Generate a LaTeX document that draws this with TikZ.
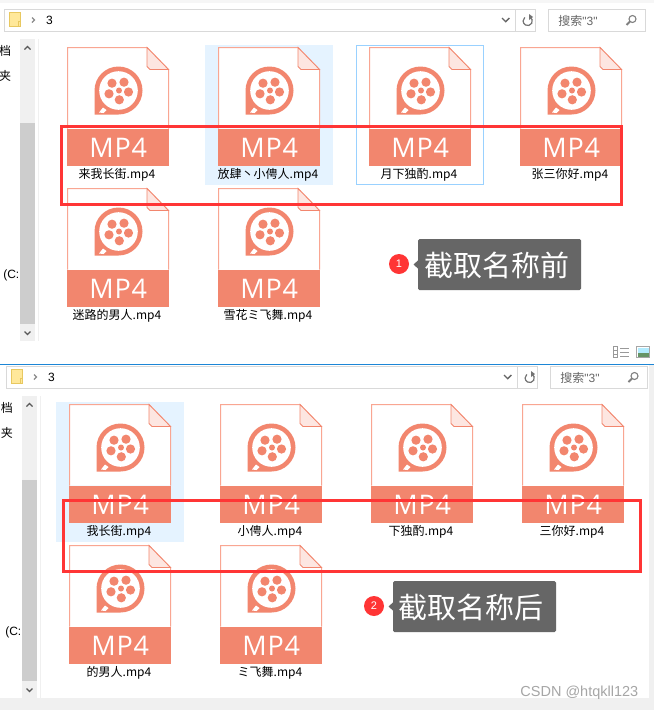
\documentclass[tikz,border=0pt]{standalone}
\usepackage{fontspec}
\usetikzlibrary{calc}
\setmainfont{Noto Sans CJK SC}
\newfontfamily\bandfont[LetterSpace=3]{Open Sans}
\newfontfamily\latfont{Liberation Sans}
\definecolor{salmon}{HTML}{F2866E}
\definecolor{salmonpale}{HTML}{F9A692}
\definecolor{foldfill}{HTML}{FDE6E1}
\definecolor{panelgrey}{HTML}{F0F0F0}
\definecolor{thumbgrey}{HTML}{CDCDCD}
\definecolor{barline}{HTML}{D9D9D9}
\definecolor{selfill}{HTML}{E5F3FF}
\definecolor{hoverline}{HTML}{99D1FF}
\definecolor{redmark}{HTML}{FF3535}
\definecolor{calloutgrey}{HTML}{666666}
\definecolor{sepblue}{HTML}{1C86D6}
\definecolor{foldery}{HTML}{FFE89A}
\definecolor{folderl}{HTML}{E8C860}
\tikzset{
  barbox/.style={draw=barline,line width=1pt,fill=white},
  filename/.style={inner sep=0pt,font=\fontsize{12}{12}\selectfont,text=black},
  bandtext/.style={inner sep=0pt,text=white,font=\bandfont\fontsize{27}{27}\selectfont},
  sidetext/.style={inner sep=0pt,font=\fontsize{12}{12}\selectfont,text=black},
  lattext/.style={inner sep=0pt,font=\latfont\fontsize{12}{12}\selectfont,text=black},
  greytext/.style={inner sep=0pt,font=\fontsize{12}{12}\selectfont,text=black!60},
  callout/.style={fill=calloutgrey,rounded corners=1.5pt},
  callouttext/.style={inner sep=0pt,text=white,font=\fontsize{29}{30}\selectfont},
  badge/.style={circle,fill=redmark,minimum size=20pt,inner sep=0pt,text=white,font=\latfont\fontsize{11}{11}\selectfont},
  redbox/.style={draw=redmark,line width=3pt},
  uichev/.style={draw=black!60,line width=1.3pt},
}
% #1 name, #2 left, #3 top, #4 label
\newcommand{\fileicon}[4]{%
\begin{scope}[shift={(#2,#3)}]
  \fill[white] (0,0) -- (79.5,0) -- (101,22) -- (101,81) -- (0,81) -- cycle;
  \draw[salmonpale,line width=1pt] (0,81) -- (0,0) -- (79.5,0) -- (101,22) -- (101,81);
  \draw[salmon,line width=.8pt,fill=foldfill] (79.5,0) -- (79.5,19) -- (82.5,22) -- (101,22) -- cycle;
  \fill[salmon] (27,43) arc[start angle=180,end angle=450,radius=24] -- (27,67) -- cycle;
  \fill[white] (51,43) circle[radius=19.3];
  \fill[white] (31.5,65) -- (35.5,60) -- (39,62.5) -- (36,65.5) -- cycle;
  \fill[salmon] (51.5,43) circle[radius=3];
  \foreach \dx/\dy in {-7/-7.3,5/-8.3,9.5/1.5,0.3/9.3,-10/3.3}
    \fill[salmon] ($(51.5,43)+(\dx,\dy)$) circle[radius=4.6];
  \fill[salmon] (-.5,81) rectangle (101.5,118);
  \node[bandtext] (#1b) at (50.8,100) {MP4};
  \node[filename] (#1) at (49.5,127.5) {#4};
\end{scope}}
% #1 prefix, #2 dx, #3 dy
\newcommand{\chrome}[3]{%
\begin{scope}[shift={(#2,#3)}]
  \draw[barbox] (4.5,9.5) rectangle (535.5,31.5);
  \draw[barline,line width=1pt] (515.5,9.5) -- (515.5,31.5);
  \draw[barbox] (548.5,9.5) rectangle (645.5,31.5);
  \fill[foldery] (9.5,12) rectangle (20.5,26);
  \draw[folderl,line width=1pt] (9.5,12) rectangle (20.5,26) (18.5,26) -- (18.5,21.5) -- (20.5,21.5);
  \draw[black!45,line width=1.4pt] (32,17.5) -- (34.5,20) -- (32,22.5);
  \node[lattext] (#1num) at (49.5,20) {3};
  \draw[uichev] (502,18) -- (505.7,21.7) -- (509.4,18);
  \draw[black!55,line width=1.2pt] (530,17) arc[start angle=-60,end angle=230,radius=4.6];
  \fill[black!55] (529,14) -- (533,17) -- (529,20) -- cycle;
  \node[greytext] (#1search) at (578,20.5) {搜索{\latfont"3"}};
  \draw[black!50,line width=1.1pt] (632.5,19) circle[radius=3.5];
  \draw[black!50,line width=1.8pt] (630,21.5) -- (626.5,25);
  \node[sidetext] (#1dang) at (5,50.5) {档};
  \node[sidetext] (#1jia) at (5,75.5) {夹};
  \fill[panelgrey] (20,39) rectangle (35,341);
  \fill[thumbgrey] (20,123) rectangle (35,324);
  \draw[black!65,line width=1.1pt] (24.5,49.5) -- (27.5,46.5) -- (30.5,49.5);
  \draw[black!65,line width=1.1pt] (24.5,331.5) -- (27.5,334.5) -- (30.5,331.5);
  \draw[panelgrey,line width=1pt] (38.5,39) -- (38.5,341);
  \node[lattext,anchor=east] (#1drive) at (19.5,275) {(C:};
\end{scope}}
\begin{document}
\begin{tikzpicture}[x=1pt,y=-1pt]
\useasboundingbox (0,0) rectangle (654,710);
\fill[white] (0,0) rectangle (654,710);
\fill[panelgrey!60] (0,0) rectangle (654,3);
\fill[panelgrey] (649,365) rectangle (654,710);
\fill[panelgrey] (0,698) rectangle (654,710);
% selection highlights
\fill[selfill] (205,45) rectangle (333,184.5);
\draw[hoverline,line width=1pt] (356.5,45.5) rectangle (483.5,184);
\fill[selfill] (56,402) rectangle (184,542);
\chrome{a}{0}{0}
% view icons
\draw[black!40,line width=1pt] (613.5,346.5) rectangle (617.5,357.5) (613.5,350) -- (617.5,350) (613.5,354) -- (617.5,354);
\draw[black!40,line width=1pt] (620,348) -- (629,348) (620,352) -- (629,352) (620,356) -- (629,356);
\draw[black!35,line width=1pt,fill=white] (636.5,346.5) rectangle (649.5,357.5);
\fill[blue!25!cyan!30] (637.5,347.5) rectangle (649,353);
\fill[green!30!black!60] (637.5,353) rectangle (649,357);
% separator
\draw[sepblue,line width=1pt] (0,364.5) -- (654,364.5);
\chrome{b}{2}{357}
% files top
\fileicon{a1}{67.5}{47.5}{来我长街.mp4}
\fileicon{a2}{218.5}{47.5}{放肆丶小俜人.mp4}
\fileicon{a3}{369.5}{47.5}{月下独酌.mp4}
\fileicon{a4}{520.5}{47.5}{张三你好.mp4}
\fileicon{a5}{67.5}{188.5}{迷路的男人.mp4}
\fileicon{a6}{218.5}{188.5}{雪花ミ飞舞.mp4}
% files bottom
\fileicon{b1}{69.5}{404.5}{我长街.mp4}
\fileicon{b2}{220.5}{404.5}{小俜人.mp4}
\fileicon{b3}{371.5}{404.5}{下独酌.mp4}
\fileicon{b4}{522.5}{404.5}{三你好.mp4}
\fileicon{b5}{69.5}{545.5}{的男人.mp4}
\fileicon{b6}{220.5}{545.5}{ミ飞舞.mp4}
% red boxes
\draw[redbox] (61.5,126) rectangle (621.5,204);
\draw[redbox] (63.5,500.5) rectangle (640.5,571.5);
% callouts
\fill[callout] (418,239) rectangle (581,290);
\fill[calloutgrey] (418.5,260) -- (413.5,264.5) -- (418.5,269) -- cycle;
\node[callouttext] (c1) at (497,265.5) {截取名称前};
\node[badge] (n1) at (399,264) {1};
\fill[callout] (393,581) rectangle (556,632);
\fill[calloutgrey] (393.5,602) -- (388.5,606.5) -- (393.5,611) -- cycle;
\node[callouttext] (c2) at (471,607.5) {截取名称后};
\node[badge] (n2) at (374,606) {2};
% watermark
\node[inner sep=0pt,anchor=east,text=black!35,font=\latfont\fontsize{14.5}{15}\selectfont] (wm) at (638.5,692.5) {CSDN @htqkll123};
\end{tikzpicture}
\end{document}
